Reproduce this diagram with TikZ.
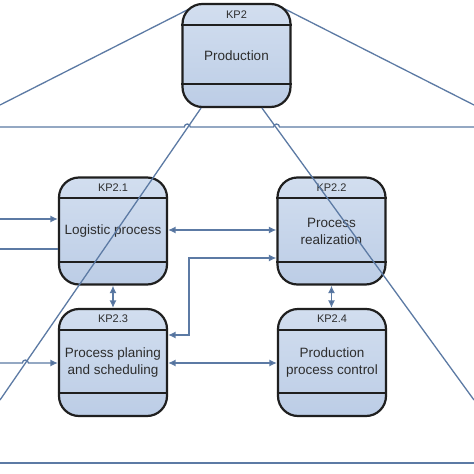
\documentclass[tikz,border=0pt]{standalone}
\usepackage{fontspec}
\setmainfont{Liberation Sans}
\usetikzlibrary{arrows.meta,calc}
\definecolor{lnblue}{RGB}{92,122,164}
\definecolor{tipblue}{RGB}{74,104,148}
\definecolor{txt}{RGB}{45,45,45}
\definecolor{boxtop}{RGB}{210,222,239}
\definecolor{boxbot}{RGB}{188,205,230}
\begin{document}
\begin{tikzpicture}[x=1pt,y=-1pt,
  conn/.style={draw=lnblue,line width=1.3pt},
  arr/.style={conn,-{Latex[length=7.5pt,width=7pt,fill=tipblue]}},
  darr/.style={conn,{Latex[length=7.5pt,width=7pt,fill=tipblue]}-{Latex[length=7.5pt,width=7pt,fill=tipblue]}},
  kpbox/.style={draw=black!88,line width=2.2pt,rounded corners=20pt,
    top color=boxtop,bottom color=boxbot,minimum width=108pt,minimum height=107pt,
    text=txt,align=center,font=\fontsize{13.5}{17}\selectfont,inner sep=0pt},
  kplab/.style={text=txt,font=\fontsize{11}{13}\selectfont,inner sep=0pt},
  sep/.style={draw=black!88,line width=2pt}]
\useasboundingbox (0,0) rectangle (474,474);
\fill[white] (0,0) rectangle (474,474);
% roof
\coordinate (ra) at (0,105);
\coordinate (rb) at (474,105);
\draw[conn] (ra) -- (195,6);
\draw[conn] (rb) -- (279,6);
% boxes
\node[kpbox,minimum height=103pt] (p) at (236.5,55.5) {Production};
\node[kpbox] (l1) at (113,231) {Logistic process};
\node[kpbox] (l2) at (331.5,231) {Process\\realization};
\node[kpbox] (l3) at (113,362.5) {Process planing\\and scheduling};
\node[kpbox] (l4) at (332,362.5) {Production\\process control};
\foreach \n in {p,l1,l2,l3,l4}{
  \draw[sep] ($(\n.north west)+(0,22)$) -- ($(\n.north east)+(0,22)$);
  \draw[sep] ($(\n.south west)+(0,-24)$) -- ($(\n.south east)+(0,-24)$);
}
\node[kplab] at ($(p.north)+(0,11.5)$) {KP2};
\node[kplab] at ($(l1.north)+(0,11)$) {KP2.1};
\node[kplab] at ($(l2.north)+(0,11)$) {KP2.2};
\node[kplab] at ($(l3.north)+(0,11)$) {KP2.3};
\node[kplab] at ($(l4.north)+(0,11)$) {KP2.4};
% inputs from the left
\coordinate (in1) at (0,219);
\coordinate (in2) at (0,249);
\coordinate (in3) at (0,363);
\draw[arr] (in1) -- (in1 -| l1.west);
\draw[conn] (in2) -- (in2 -| l1.west);
\draw[arr] (in3) -- (22.4,363) arc[start angle=180,end angle=0,radius=3pt] -- (in3 -| l3.west);
% links between boxes
\draw[darr] ($(l1.east)+(0,-1)$) -- ($(l2.west)+(0,-1)$);
\draw[darr] (l1.south) -- (l3.north);
\draw[darr] (l2.south) -- (l2.south |- l4.north);
\draw[darr] ($(l3.east)+(0,0.5)$) -- ($(l4.west)+(0,0.5)$);
\coordinate (e1) at (189,258);
\coordinate (e2) at (189,335);
\draw[darr] (l2.west |- e1) -- (e1) -- (e2) -- (l3.east |- e2);
% descending lines from KP2
\coordinate (da) at (0,400);
\coordinate (db) at (474,400);
\draw[conn] ($(p.south)+(-35.5,0)$) -- (da);
\draw[conn] ($(p.south)+(25.5,0)$) -- (db);
% horizontal rules
\coordinate (h1) at (0,127);
\coordinate (h2) at (474,127);
\draw[conn] (h1) -- (184.3,127) arc[start angle=180,end angle=0,radius=3pt]
  -- (273.5,127) arc[start angle=180,end angle=0,radius=3pt] -- (h2);
\coordinate (b1) at (0,463);
\coordinate (b2) at (474,463);
\draw[conn] (b1) -- (b2);
\end{tikzpicture}
\end{document}
